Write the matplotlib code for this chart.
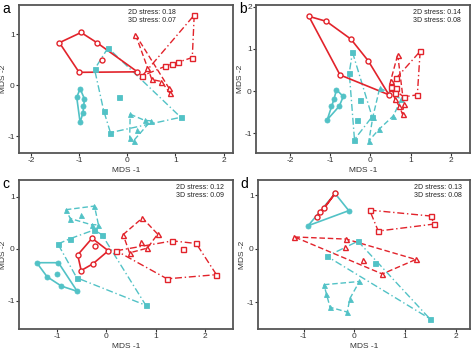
import matplotlib
matplotlib.use("Agg")
import matplotlib.pyplot as plt

plt.rcParams['font.family'] = ['Liberation Sans', 'DejaVu Sans']

RED = '#E2232B'
CYAN = '#52C2C6'

# ---------------- data: (outline points in drawing order), (interior points)
# Panel a
a_rc_out = [(-1.41, 0.83), (-0.96, 1.03), (-0.63, 0.83), (0.21, 0.26), (-1.00, 0.25)]
a_rc_in = [(-0.53, 0.50)]
a_rt_out = [(0.17, 0.99), (0.86, -0.05), (0.88, -0.15), (0.71, 0.07), (0.51, 0.11)]
a_rt_in = [(0.41, 0.33)]
a_rs_out = [(1.39, 1.37), (1.35, 0.54), (1.06, 0.45), (0.93, 0.41), (0.79, 0.37), (0.31, 0.18)]
a_rs_in = []
a_cc_out = [(-0.98, -0.07), (-0.89, -0.27), (-0.92, -0.54), (-0.98, -0.73), (-1.05, -0.24)]
a_cc_in = [(-0.93, -0.41)]
a_ct_out = [(0.06, -0.57), (0.36, -0.69), (0.49, -0.70), (0.13, -1.09), (0.05, -1.03)]
a_ct_in = [(0.20, -0.88)]
a_cs_out = [(-0.40, 0.73), (-0.68, 0.31), (-0.49, -0.50), (-0.35, -0.93), (1.11, -0.63)]
a_cs_in = [(-0.18, -0.23)]

# Panel b
b_rc_out = [(-1.54, 1.77), (-1.10, 1.65), (-0.49, 1.23), (-0.06, 0.72), (0.46, -0.09), (-0.76, 0.38)]
b_rc_in = []
b_rt_out = [(0.68, 0.86), (0.83, -0.31), (0.80, -0.55), (0.72, -0.36), (0.61, -0.20), (0.50, 0.23)]
b_rt_in = [(0.52, 0.08)]
b_rs_out = [(1.24, 0.94), (1.17, -0.09), (0.83, -0.14), (0.51, 0.09), (0.64, 0.30)]
b_rs_in = [(0.64, 0.08), (0.60, -0.05)]
b_cc_out = [(-0.85, 0.03), (-0.68, -0.13), (-0.78, -0.36), (-1.08, -0.68), (-0.91, -0.19)]
b_cc_in = [(-0.98, -0.36)]
b_ct_out = [(0.23, 0.07), (0.77, -0.19), (0.57, -0.59), (0.21, -0.91), (-0.04, -1.18), (0.06, -0.61)]
b_ct_in = []
b_cs_out = [(-0.45, 0.92), (0.04, -0.61), (-0.40, -1.15), (-0.53, 0.43)]
b_cs_in = [(-0.26, -0.22), (-0.33, -0.69)]

# Panel c
c_rc_out = [(-0.29, 0.20), (0.04, -0.04), (-0.27, -0.29), (-0.51, -0.42), (-0.58, -0.12)]
c_rc_in = [(-0.22, 0.05)]
c_rt_out = [(0.34, 0.27), (0.73, 0.59), (1.04, 0.28), (0.83, 0.01), (0.47, -0.08)]
c_rt_in = [(0.70, 0.12)]
c_rs_out = [(0.20, -0.04), (1.34, 0.15), (1.82, 0.10), (2.23, -0.50), (1.23, -0.58)]
c_rs_in = [(1.56, 0.00)]
c_cc_out = [(-1.41, -0.27), (-0.97, -0.27), (-0.59, -0.82), (-0.91, -0.72), (-1.20, -0.54)]
c_cc_in = [(-0.99, -0.49)]
c_ct_out = [(-0.82, 0.75), (-0.24, 0.82), (-0.16, 0.46), (-0.30, 0.46), (-0.73, 0.58)]
c_ct_in = [(-0.51, 0.64)]
c_cs_out = [(-0.98, 0.09), (-0.74, 0.19), (-0.25, 0.36), (-0.09, 0.27), (0.80, -1.09), (-0.60, -0.56)]
c_cs_in = []

# Panel d
d_rc_out = [(-0.38, 1.03), (-0.59, 0.76), (-0.68, 0.69), (-0.73, 0.60)]
d_rc_in = []
d_rt_out = [(-1.18, 0.22), (-0.16, 0.18), (1.21, -0.20), (0.55, -0.47)]
d_rt_in = [(-0.18, 0.03), (0.17, -0.21)]
d_rs_out = [(0.30, 0.72), (1.50, 0.61), (1.57, 0.46), (0.47, 0.33)]
d_rs_in = []
d_cc_out = [(-0.91, 0.43), (-0.38, 1.03), (-0.11, 0.71)]
d_cc_in = []
d_ct_out = [(-0.60, -0.67), (0.10, -0.61), (-0.09, -0.93), (-0.14, -1.18), (-0.48, -1.09), (-0.55, -0.84)]
d_ct_in = []
d_cs_out = [(0.07, 0.14), (1.48, -1.30), (-0.54, -0.14)]
d_cs_in = [(0.40, -0.27)]

stress_a = ("0.18", "0.07")
stress_b = ("0.14", "0.08")
stress_c = ("0.12", "0.09")
stress_d = ("0.13", "0.08")

panels = [
    dict(label='a', rect=[0.040, 0.564, 0.452, 0.422], xlim=(-2.25, 2.2), ylim=(-1.33, 1.57),
         xt=[-2, -1, 0, 1, 2], yt=[-1, 0, 1], stress=stress_a, sx=0.51,
         groups=[(a_cc_out, a_cc_in, 'cc'), (a_ct_out, a_ct_in, 'ct'), (a_cs_out, a_cs_in, 'cs'),
                 (a_rc_out, a_rc_in, 'rc'), (a_rt_out, a_rt_in, 'rt'), (a_rs_out, a_rs_in, 'rs')]),
    dict(label='b', rect=[0.540, 0.564, 0.452, 0.422], xlim=(-2.86, 2.49), ylim=(-1.47, 2.04),
         xt=[-2, -1, 0, 1, 2], yt=[-1, 0, 1, 2], stress=stress_b, sx=0.735,
         groups=[(b_cc_out, b_cc_in, 'cc'), (b_ct_out, b_ct_in, 'ct'), (b_cs_out, b_cs_in, 'cs'),
                 (b_rc_out, b_rc_in, 'rc'), (b_rt_out, b_rt_in, 'rt'), (b_rs_out, b_rs_in, 'rs')]),
    dict(label='c', rect=[0.040, 0.062, 0.452, 0.425], xlim=(-1.77, 2.57), ylim=(-1.55, 1.32),
         xt=[-1, 0, 1, 2], yt=[-1, 0, 1], stress=stress_c, sx=0.735,
         groups=[(c_cc_out, c_cc_in, 'cc'), (c_ct_out, c_ct_in, 'ct'), (c_cs_out, c_cs_in, 'cs'),
                 (c_rc_out, c_rc_in, 'rc'), (c_rt_out, c_rt_in, 'rt'), (c_rs_out, c_rs_in, 'rs')]),
    dict(label='d', rect=[0.544, 0.062, 0.448, 0.425], xlim=(-1.90, 2.28), ylim=(-1.50, 1.28),
         xt=[-1, 0, 1, 2], yt=[-1, 0, 1], stress=stress_d, sx=0.735,
         groups=[(d_cc_out, d_cc_in, 'cc'), (d_ct_out, d_ct_in, 'ct'), (d_cs_out, d_cs_in, 'cs'),
                 (d_rc_out, d_rc_in, 'rc'), (d_rt_out, d_rt_in, 'rt'), (d_rs_out, d_rs_in, 'rs')]),
]

styles = {
    'c': ('o', '-', 1.2),
    't': ('^', (0, (4, 2)), 1.0),
    's': ('s', (0, (5, 2, 1, 2)), 1.0),
}

fig = plt.figure(figsize=(4.74, 3.51), dpi=100)
for p in panels:
    ax = fig.add_axes(p['rect'])
    for out, inn, key in p['groups']:
        col = RED if key[0] == 'r' else CYAN
        marker, ls, lw = styles[key[1]]
        xs = [q[0] for q in out] + [out[0][0]]
        ys = [q[1] for q in out] + [out[0][1]]
        ax.plot(xs, ys, color=col, ls=ls, lw=lw, zorder=2)
        px = [q[0] for q in out + inn]
        py = [q[1] for q in out + inn]
        if key[0] == 'r':
            ax.plot(px, py, ls='none', marker=marker, ms=3.6, mfc='white', mec=col, mew=1.0, zorder=3)
        else:
            ax.plot(px, py, ls='none', marker=marker, ms=3.6, mfc=col, mec=col, mew=0.6, zorder=3)
    ax.set_xlim(*p['xlim'])
    ax.set_ylim(*p['ylim'])
    ax.set_xticks(p['xt'])
    ax.set_yticks(p['yt'])
    ax.set_xticklabels([str(v) for v in p['xt']])
    ax.set_yticklabels([str(v) for v in p['yt']])
    ax.tick_params(labelsize=6, length=2, width=0.8, pad=1, colors='#333333')
    for s in ax.spines.values():
        s.set_color('#555555')
        s.set_linewidth(1.3)
    ax.set_xlabel('MDS -1', fontsize=6, color='#333333')
    ax.set_ylabel('MDS -2', fontsize=6, color='#333333')
    ax.xaxis.set_label_coords(0.5, -0.092)
    ax.yaxis.set_label_coords(-0.055, 0.5)
    ax.text(p['sx'], 0.975, '2D stress: %s\n3D stress: %s' % p['stress'], transform=ax.transAxes,
            fontsize=5, va='top', ha='left', linespacing=1.25, color='#222222')
    r = p['rect']
    fig.text(r[0] - 0.036, r[1] + r[3] + 0.008, p['label'], fontsize=10, va='top', ha='left')

fig.savefig('out.png', dpi=100)
